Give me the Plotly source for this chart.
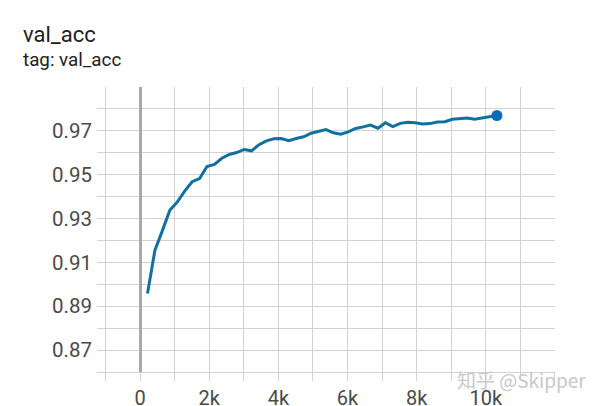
import plotly.graph_objects as go

steps = [215, 430, 645, 860, 1075, 1290, 1505, 1720, 1935, 2150,
         2365, 2580, 2795, 3010, 3225, 3440, 3655, 3870, 4085, 4300,
         4515, 4730, 4945, 5160, 5375, 5590, 5805, 6020, 6235, 6450,
         6665, 6880, 7095, 7310, 7525, 7740, 7955, 8170, 8385, 8600,
         8815, 9030, 9245, 9460, 9675, 9890, 10105, 10320]
val_acc = [0.8958, 0.9156, 0.9245, 0.9338, 0.9375, 0.9425, 0.9468, 0.9482, 0.9537, 0.9547,
           0.9575, 0.9592, 0.9601, 0.9615, 0.9609, 0.9637, 0.9654, 0.9664, 0.9665, 0.9655,
           0.9665, 0.9673, 0.9689, 0.9697, 0.9706, 0.9691, 0.9685, 0.9695, 0.9711, 0.9718,
           0.9726, 0.9712, 0.9737, 0.9719, 0.9734, 0.9739, 0.9737, 0.9731, 0.9733, 0.9740,
           0.9742, 0.9753, 0.9755, 0.9759, 0.9753, 0.9758, 0.9762, 0.9770]

x_grid = [-1000, 0, 1000, 2000, 3000, 4000, 5000, 6000, 7000, 8000, 9000, 10000, 11000, 12000]
x_text = ["", "0", "", "2k", "", "4k", "", "6k", "", "8k", "", "10k", "", ""]
y_grid = [0.86, 0.87, 0.88, 0.89, 0.90, 0.91, 0.92, 0.93, 0.94, 0.95, 0.96, 0.97, 0.98, 0.99]
y_text = ["", "0.87", "", "0.89", "", "0.91", "", "0.93", "", "0.95", "", "0.97", "", ""]

title = "val_acc"
subtitle = "tag: val_acc"
watermark = "知乎 @Skipper"

LINE = "#11709f"
DOT = "#0a6db8"
GRID = "#d2d2d2"

fig = go.Figure()
fig.add_trace(go.Scatter(x=steps, y=val_acc, mode="lines",
                         line=dict(color=LINE, width=3), hoverinfo="skip"))
fig.add_trace(go.Scatter(x=[steps[-1]], y=[val_acc[-1]], mode="markers",
                         marker=dict(color=DOT, size=11), hoverinfo="skip"))

W, H = 600, 406
ml, mr, mt, mb = 97, 45, 87, 34
ph = H - mt - mb
pw = W - ml - mr

fig.update_layout(
    width=W, height=H,
    margin=dict(l=ml, r=mr, t=mt, b=mb, pad=0, autoexpand=False),
    paper_bgcolor="white", plot_bgcolor="white",
    showlegend=False,
    font=dict(family="Roboto", size=20, color="#4a4a4a"),
    xaxis=dict(range=[-1246, 12000.5], tickmode="array", tickvals=x_grid, ticktext=x_text,
               automargin=False,
               showgrid=True, gridcolor=GRID, gridwidth=1,
               zeroline=True, zerolinecolor="#a8a8a8", zerolinewidth=2.5,
               ticks="outside", ticklen=8, tickcolor=GRID, tickwidth=1,
               showline=True, linecolor=GRID, linewidth=1,
               tickfont=dict(size=20, color="#4a4a4a")),
    yaxis=dict(range=[0.86 - 1e-6, 0.99 + 1e-6], tickmode="array", tickvals=y_grid, ticktext=y_text,
               automargin=False,
               showgrid=True, gridcolor=GRID, gridwidth=1, zeroline=False,
               ticks="", ticklabelstandoff=4,
               tickfont=dict(size=20.5, color="#4a4a4a")),
    annotations=[
        dict(text=title, xref="paper", yref="paper", x=(21 - ml) / pw, y=1 + (mt - 35) / ph,
             xanchor="left", yanchor="middle", showarrow=False,
             font=dict(family="Roboto", size=22, color="#212121")),
        dict(text=subtitle, xref="paper", yref="paper", x=(21 - ml) / pw, y=1 + (mt - 60) / ph,
             xanchor="left", yanchor="middle", showarrow=False,
             font=dict(family="Roboto", size=18.8, color="#212121")),
        dict(text=watermark, xref="paper", yref="paper", x=(588 - ml) / pw, y=1 - (379 - mt) / ph,
             xanchor="right", yanchor="middle", showarrow=False,
             font=dict(family="Noto Sans CJK SC", size=19, color="#c8c8c8")),
    ],
)

fig.write_html("out.html", config={"displayModeBar": False},
               post_script="document.body.style.margin='0';document.body.style.padding='0';")
